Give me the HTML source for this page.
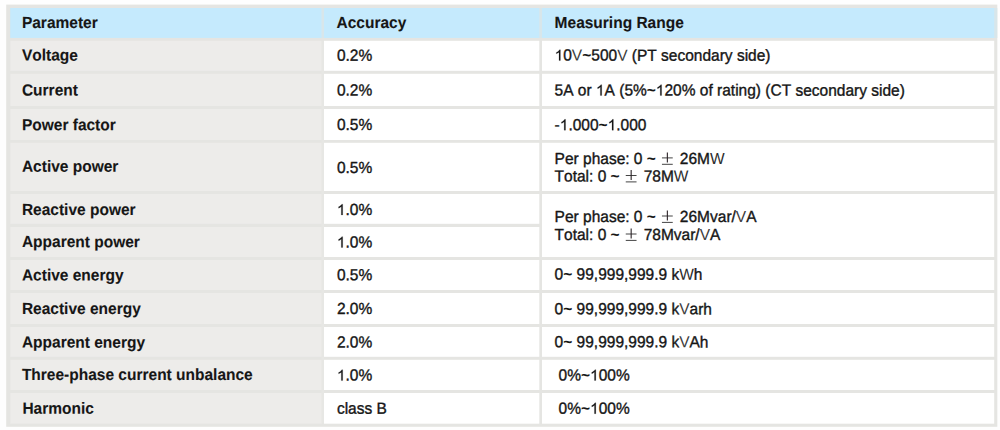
<!DOCTYPE html>
<html><head><meta charset="utf-8"><title>Technical parameters</title>
<style>
html,body{margin:0;padding:0;background:#fefefe;}
body{width:1000px;height:430px;overflow:hidden;font-family:"Liberation Sans",sans-serif;}
svg{display:block;}
text{font-family:"Liberation Sans",sans-serif;fill:#161616;font-kerning:none;text-rendering:geometricPrecision;stroke:#161616;stroke-width:0.35px;stroke-linejoin:round;}
text.b{font-weight:bold;stroke-width:0.1px;}
tspan.h{fill:none;stroke:none;}
tspan.lv{fill:#3c3c3c;stroke:none;}
tspan.lw{fill:#2c2c2c;stroke:none;}
tspan.tb{font-weight:bold;stroke:none;}
path.g{fill:#161616;stroke:#161616;stroke-width:25px;}
</style></head><body>
<svg width="1000" height="430" viewBox="0 0 1000 430">
<rect x="6.20" y="4.60" width="991.10" height="422.20" fill="#e5e5e2"/>
<rect x="10.30" y="8.00" width="987.00" height="29.90" fill="#d8e6ea"/>
<rect x="10.30" y="8.00" width="311.20" height="29.90" fill="#c5eafd"/>
<rect x="324.00" y="8.00" width="215.30" height="29.90" fill="#c5eafd"/>
<rect x="542.00" y="8.00" width="452.20" height="29.90" fill="#c5eafd"/>
<rect x="321.50" y="40.80" width="2.50" height="382.90" fill="#e7e7e4"/>
<rect x="10.30" y="40.80" width="311.20" height="30.00" fill="#edecea"/>
<rect x="324.00" y="40.80" width="215.30" height="30.00" fill="#ffffff"/>
<rect x="542.00" y="40.80" width="452.20" height="30.00" fill="#ffffff"/>
<rect x="10.30" y="73.80" width="311.20" height="32.20" fill="#edecea"/>
<rect x="324.00" y="73.80" width="215.30" height="32.20" fill="#ffffff"/>
<rect x="542.00" y="73.80" width="452.20" height="32.20" fill="#ffffff"/>
<rect x="10.30" y="109.00" width="311.20" height="31.00" fill="#edecea"/>
<rect x="324.00" y="109.00" width="215.30" height="31.00" fill="#ffffff"/>
<rect x="542.00" y="109.00" width="452.20" height="31.00" fill="#ffffff"/>
<rect x="10.30" y="142.80" width="311.20" height="48.20" fill="#edecea"/>
<rect x="324.00" y="142.80" width="215.30" height="48.20" fill="#ffffff"/>
<rect x="542.00" y="142.80" width="452.20" height="48.20" fill="#ffffff"/>
<rect x="10.30" y="194.00" width="311.20" height="29.80" fill="#edecea"/>
<rect x="324.00" y="194.00" width="215.30" height="29.80" fill="#ffffff"/>
<rect x="542.00" y="194.00" width="452.20" height="63.00" fill="#ffffff"/>
<rect x="10.30" y="227.00" width="311.20" height="30.00" fill="#edecea"/>
<rect x="324.00" y="227.00" width="215.30" height="30.00" fill="#ffffff"/>
<rect x="10.30" y="260.00" width="311.20" height="30.00" fill="#edecea"/>
<rect x="324.00" y="260.00" width="215.30" height="30.00" fill="#ffffff"/>
<rect x="542.00" y="260.00" width="452.20" height="30.00" fill="#ffffff"/>
<rect x="10.30" y="293.00" width="311.20" height="31.00" fill="#edecea"/>
<rect x="324.00" y="293.00" width="215.30" height="31.00" fill="#ffffff"/>
<rect x="542.00" y="293.00" width="452.20" height="31.00" fill="#ffffff"/>
<rect x="10.30" y="327.00" width="311.20" height="29.80" fill="#edecea"/>
<rect x="324.00" y="327.00" width="215.30" height="29.80" fill="#ffffff"/>
<rect x="542.00" y="327.00" width="452.20" height="29.80" fill="#ffffff"/>
<rect x="10.30" y="359.80" width="311.20" height="30.20" fill="#edecea"/>
<rect x="324.00" y="359.80" width="215.30" height="30.20" fill="#ffffff"/>
<rect x="542.00" y="359.80" width="452.20" height="30.20" fill="#ffffff"/>
<rect x="10.30" y="393.00" width="311.20" height="30.70" fill="#edecea"/>
<rect x="324.00" y="393.00" width="215.30" height="30.70" fill="#ffffff"/>
<rect x="542.00" y="393.00" width="452.20" height="30.70" fill="#ffffff"/>
<text transform="translate(21.90,28.00) scale(1,1.04) rotate(0.03)" font-size="15.5" class="b">Parameter</text>
<text transform="translate(21.90,60.60) scale(1,1.04) rotate(0.03)" font-size="15.5" class="b">Voltage</text>
<text transform="translate(21.90,95.40) scale(1,1.04) rotate(0.03)" font-size="15.5" class="b">Current</text>
<text transform="translate(21.90,130.20) scale(1,1.04) rotate(0.03)" font-size="15.5" class="b">Power factor</text>
<text transform="translate(21.90,171.80) scale(1,1.04) rotate(0.03)" font-size="15.5" class="b">Active power</text>
<text transform="translate(21.90,215.00) scale(1,1.04) rotate(0.03)" font-size="15.5" class="b">Reactive power</text>
<text transform="translate(21.90,247.10) scale(1,1.04) rotate(0.03)" font-size="15.5" class="b">Apparent power</text>
<text transform="translate(21.90,280.40) scale(1,1.04) rotate(0.03)" font-size="15.5" class="b">Active energy</text>
<text transform="translate(21.90,314.00) scale(1,1.04) rotate(0.03)" font-size="15.5" class="b">Reactive energy</text>
<text transform="translate(21.90,347.60) scale(1,1.04) rotate(0.03)" font-size="15.5" class="b">Apparent energy</text>
<text transform="translate(21.90,380.00) scale(1,1.04) rotate(0.03)" font-size="15.5" class="b">Three-phase current unbalance</text>
<text transform="translate(22.40,413.70) scale(1,1.04) rotate(0.03)" font-size="15.5" class="b">Harmonic</text>
<text transform="translate(336.50,28.00) scale(1,1.04) rotate(0.03)" font-size="15.5" class="b">Accuracy</text>
<text transform="translate(554.60,28.00) scale(1,1.04) rotate(0.03)" font-size="15.5" class="b">Measuring Range</text>
<text transform="translate(336.90,60.70) scale(1,1.04) rotate(0.03)" font-size="15.5">0.2%</text>
<text transform="translate(336.90,95.40) scale(1,1.04) rotate(0.03)" font-size="15.5">0.2%</text>
<text transform="translate(336.90,130.10) scale(1,1.04) rotate(0.03)" font-size="15.5">0.5%</text>
<text transform="translate(336.90,173.00) scale(1,1.04) rotate(0.03)" font-size="15.5">0.5%</text>
<text transform="translate(336.90,215.00) scale(1,1.04) rotate(0.03)" font-size="15.5"><tspan class="h">1</tspan>.0%</text>
<path class="g" transform="translate(336.90,215.00) scale(0.00757,-0.00738)" d="M763 0H583V1147Q518 1085 412.5 1023Q307 961 223 930V1104Q374 1175 487 1276Q600 1377 647 1472H763Z"/>
<text transform="translate(336.90,247.50) scale(1,1.04) rotate(0.03)" font-size="15.5"><tspan class="h">1</tspan>.0%</text>
<path class="g" transform="translate(336.90,247.50) scale(0.00757,-0.00738)" d="M763 0H583V1147Q518 1085 412.5 1023Q307 961 223 930V1104Q374 1175 487 1276Q600 1377 647 1472H763Z"/>
<text transform="translate(336.90,280.20) scale(1,1.04) rotate(0.03)" font-size="15.5">0.5%</text>
<text transform="translate(336.90,314.00) scale(1,1.04) rotate(0.03)" font-size="15.5">2.0%</text>
<text transform="translate(336.90,347.60) scale(1,1.04) rotate(0.03)" font-size="15.5">2.0%</text>
<text transform="translate(336.90,380.60) scale(1,1.04) rotate(0.03)" font-size="15.5"><tspan class="h">1</tspan>.0%</text>
<path class="g" transform="translate(336.90,380.60) scale(0.00757,-0.00738)" d="M763 0H583V1147Q518 1085 412.5 1023Q307 961 223 930V1104Q374 1175 487 1276Q600 1377 647 1472H763Z"/>
<text transform="translate(336.90,413.70) scale(1,1.04) rotate(0.03)" font-size="15.5">class B</text>
<text transform="translate(554.60,60.60) scale(1,1.04) rotate(0.03)" font-size="15.5"><tspan class="h">1</tspan>0<tspan class="lv">V</tspan><tspan class="tb">~</tspan>500<tspan class="lv">V</tspan> (PT secondary side)</text>
<path class="g" transform="translate(554.60,60.60) scale(0.00757,-0.00738)" d="M763 0H583V1147Q518 1085 412.5 1023Q307 961 223 930V1104Q374 1175 487 1276Q600 1377 647 1472H763Z"/>
<text transform="translate(554.60,95.50) scale(1,1.04) rotate(0.03)" font-size="15.5">5A or <tspan class="h">1</tspan>A (5%<tspan class="tb">~</tspan><tspan class="h">1</tspan>20% of rating) (CT secondary side)</text>
<path class="g" transform="translate(595.95,95.50) scale(0.00757,-0.00738)" d="M763 0H583V1147Q518 1085 412.5 1023Q307 961 223 930V1104Q374 1175 487 1276Q600 1377 647 1472H763Z"/>
<path class="g" transform="translate(655.83,95.50) scale(0.00757,-0.00738)" d="M763 0H583V1147Q518 1085 412.5 1023Q307 961 223 930V1104Q374 1175 487 1276Q600 1377 647 1472H763Z"/>
<text transform="translate(554.60,130.20) scale(1,1.04) rotate(0.03)" font-size="15.5">-<tspan class="h">1</tspan>.000<tspan class="tb">~</tspan><tspan class="h">1</tspan>.000</text>
<path class="g" transform="translate(559.76,130.20) scale(0.00757,-0.00738)" d="M763 0H583V1147Q518 1085 412.5 1023Q307 961 223 930V1104Q374 1175 487 1276Q600 1377 647 1472H763Z"/>
<path class="g" transform="translate(607.60,130.20) scale(0.00757,-0.00738)" d="M763 0H583V1147Q518 1085 412.5 1023Q307 961 223 930V1104Q374 1175 487 1276Q600 1377 647 1472H763Z"/>
<text transform="translate(554.60,163.90) scale(1,1.04) rotate(0.03)" font-size="15.5">Per phase: 0 <tspan class="tb">~</tspan></text>
<path d="M661.96 157.90H672.76M661.96 164.30H672.76" stroke="#444" stroke-width="1" fill="none"/>
<path d="M667.36 152.50V162.50" stroke="#2a2226" stroke-width="1.1" fill="none"/>
<text transform="translate(679.86,163.90) scale(1,1.04) rotate(0.03)" font-size="15.5">26M<tspan class="lw">W</tspan></text>
<text transform="translate(554.60,181.50) scale(1,1.04) rotate(0.03)" font-size="15.5">Total: 0 <tspan class="tb">~</tspan></text>
<path d="M625.76 175.50H636.56M625.76 181.90H636.56" stroke="#444" stroke-width="1" fill="none"/>
<path d="M631.16 170.10V180.10" stroke="#2a2226" stroke-width="1.1" fill="none"/>
<text transform="translate(643.66,181.50) scale(1,1.04) rotate(0.03)" font-size="15.5">78M<tspan class="lw">W</tspan></text>
<text transform="translate(554.60,222.00) scale(1,1.04) rotate(0.03)" font-size="15.5">Per phase: 0 <tspan class="tb">~</tspan></text>
<path d="M661.96 216.00H672.76M661.96 222.40H672.76" stroke="#444" stroke-width="1" fill="none"/>
<path d="M667.36 210.60V220.60" stroke="#2a2226" stroke-width="1.1" fill="none"/>
<text transform="translate(679.86,222.00) scale(1,1.04) rotate(0.03)" font-size="15.5">26Mvar/<tspan class="lv">V</tspan>A</text>
<text transform="translate(554.60,240.00) scale(1,1.04) rotate(0.03)" font-size="15.5">Total: 0 <tspan class="tb">~</tspan></text>
<path d="M625.76 234.00H636.56M625.76 240.40H636.56" stroke="#444" stroke-width="1" fill="none"/>
<path d="M631.16 228.60V238.60" stroke="#2a2226" stroke-width="1.1" fill="none"/>
<text transform="translate(643.66,240.00) scale(1,1.04) rotate(0.03)" font-size="15.5">78Mvar/<tspan class="lv">V</tspan>A</text>
<text transform="translate(554.60,279.60) scale(1,1.04) rotate(0.03)" font-size="15.5">0<tspan class="tb">~</tspan> 99,999,999.9 k<tspan class="lw">W</tspan>h</text>
<text transform="translate(554.60,314.30) scale(1,1.04) rotate(0.03)" font-size="15.5">0<tspan class="tb">~</tspan> 99,999,999.9 k<tspan class="lv">V</tspan>arh</text>
<text transform="translate(554.60,347.30) scale(1,1.04) rotate(0.03)" font-size="15.5">0<tspan class="tb">~</tspan> 99,999,999.9 k<tspan class="lv">V</tspan>Ah</text>
<text transform="translate(558.60,380.50) scale(1,1.04) rotate(0.03)" font-size="15.5">0%<tspan class="tb">~</tspan><tspan class="h">1</tspan>00%</text>
<path class="g" transform="translate(590.05,380.50) scale(0.00757,-0.00738)" d="M763 0H583V1147Q518 1085 412.5 1023Q307 961 223 930V1104Q374 1175 487 1276Q600 1377 647 1472H763Z"/>
<text transform="translate(558.60,413.70) scale(1,1.04) rotate(0.03)" font-size="15.5">0%<tspan class="tb">~</tspan><tspan class="h">1</tspan>00%</text>
<path class="g" transform="translate(590.05,413.70) scale(0.00757,-0.00738)" d="M763 0H583V1147Q518 1085 412.5 1023Q307 961 223 930V1104Q374 1175 487 1276Q600 1377 647 1472H763Z"/>
</svg>
</body></html>
